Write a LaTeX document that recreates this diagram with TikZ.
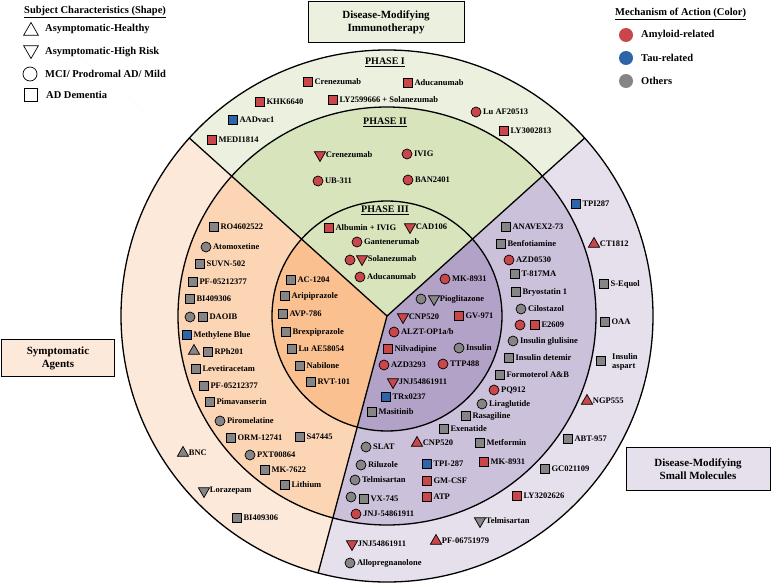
\documentclass[tikz,border=0pt]{standalone}
\usepackage{fontspec}
\setmainfont{Liberation Serif}
\usetikzlibrary{shapes.geometric}
\definecolor{gA}{HTML}{EBF1DE}\definecolor{gB}{HTML}{D7E4BC}\definecolor{gC}{HTML}{D7E4BC}
\definecolor{oA}{HTML}{FDE9D9}\definecolor{oB}{HTML}{FCD5B5}\definecolor{oC}{HTML}{FAC090}
\definecolor{pA}{HTML}{E6E0EC}\definecolor{pB}{HTML}{CCC1DA}\definecolor{pC}{HTML}{B3A2C7}
\definecolor{rd}{HTML}{C9474A}\definecolor{bl}{HTML}{2E64A8}\definecolor{gy}{HTML}{858585}
\newcommand\mk[4]{\node[#3,fill=#4] (#1) at (#2) {};}
\newcommand\tx[2]{\node[lbl] (#1t) at ([xshift=1.5pt]#1.east) {#2};}
\newcommand\itm[5]{\mk{#1}{#2}{#3}{#4}\tx{#1}{#5}}
\begin{document}
\begin{tikzpicture}[x=1pt,y=-1pt,
 sq/.style={draw=black,line width=0.7pt,rectangle,minimum size=9pt,inner sep=0},
 ci/.style={draw=black,line width=0.7pt,circle,minimum size=10pt,inner sep=0},
 tu/.style={draw=black,line width=0.7pt,regular polygon,regular polygon sides=3,minimum size=13pt,inner sep=0},
 td/.style={tu,shape border rotate=180},
 lbl/.style={anchor=west,inner sep=0,font=\bfseries\fontsize{8.5}{9}\selectfont},
 leg/.style={anchor=west,inner sep=0,font=\bfseries\fontsize{10.5}{12}\selectfont},
 box/.style={draw=black,line width=0.8pt,align=center,font=\bfseries\fontsize{11}{13}\selectfont},
 ph/.style={font=\bfseries\fontsize{10}{12}\selectfont,inner sep=1pt},
 bd/.style={line width=1.3pt}]
\useasboundingbox (0,0) rectangle (771,583);
\coordinate (c) at (387,316);
% rings
\fill[gA] (c) -- (-138:266) ++(0,0) arc[start angle=-138,end angle=-42,radius=266] -- cycle;
\fill[gA] (c) -- ++(-138:266) arc[start angle=-138,end angle=-42,radius=266] -- cycle;
\fill[oA] (c) -- ++(105:266) arc[start angle=105,end angle=222,radius=266] -- cycle;
\fill[pA] (c) -- ++(-42:266) arc[start angle=-42,end angle=105,radius=266] -- cycle;
\fill[gB] (c) -- ++(-138:209) arc[start angle=-138,end angle=-42,radius=209] -- cycle;
\fill[oB] (c) -- ++(105:209) arc[start angle=105,end angle=222,radius=209] -- cycle;
\fill[pB] (c) -- ++(-42:209) arc[start angle=-42,end angle=105,radius=209] -- cycle;
\fill[gC] (c) -- ++(-138:115) arc[start angle=-138,end angle=-42,radius=115] -- cycle;
\fill[oC] (c) -- ++(105:115) arc[start angle=105,end angle=222,radius=115] -- cycle;
\fill[pC] (c) -- ++(-42:115) arc[start angle=-42,end angle=105,radius=115] -- cycle;
\draw[bd] (c) circle[radius=266] (c) circle[radius=209] (c) circle[radius=115];
\draw[bd] (c) -- ++(-138:266) (c) -- ++(-42:266) (c) -- ++(105:266);
% boxes
\node[box,fill=gA,minimum width=156pt,minimum height=41pt] (b1) at (386,22) {Disease-Modifying\\Immunotherapy};
\node[box,fill=oA,minimum width=113pt,minimum height=37pt] (b2) at (58,358) {Symptomatic\\Agents};
\node[box,fill=pA,minimum width=144pt,minimum height=43pt] (b3) at (698,469) {Disease-Modifying\\Small Molecules};
% legends
\node[leg] (lh) at (24,12) {\underline{Subject Characteristics (Shape)}};
\node[tu,fill=none,minimum size=17pt] (l1) at (31,31) {}; \node[leg] (l1t) at (45,29) {Asymptomatic-Healthy};
\node[td,fill=none,minimum size=17pt] (l2) at (31,50) {}; \node[leg] (l2t) at (45,52) {Asymptomatic-High Risk};
\node[ci,fill=none,minimum size=14pt] (l3) at (30,74) {}; \node[leg] (l3t) at (45,74) {MCI/ Prodromal AD/ Mild};
\node[sq,fill=none,minimum size=13pt] (l4) at (31,95) {}; \node[leg] (l4t) at (46,95) {AD Dementia};
\node[leg] (rh) at (615,14) {\underline{Mechanism of Action (Color)}};
\node[ci,draw=none,fill=rd,minimum size=14pt] (r1) at (626,35) {}; \node[leg] (r1t) at (641,35) {Amyloid-related};
\node[ci,draw=none,fill=bl,minimum size=14pt] (r2) at (626,58) {}; \node[leg] (r2t) at (641,58) {Tau-related};
\node[ci,draw=none,fill=gy,minimum size=14pt] (r3) at (626,81) {}; \node[leg] (r3t) at (641,81) {Others};
% phases
\node[ph] (p1) at (385,62) {\underline{PHASE I}};
\node[ph] (p2) at (385,122) {\underline{PHASE II}};
\node[ph] (p3) at (385,210) {\underline{PHASE III}};
% phase I
\itm{a1}{308,82}{sq}{rd}{Crenezumab}
\itm{a2}{408,83}{sq}{rd}{Aducanumab}
\itm{a3}{260,102}{sq}{rd}{KHK6640}
\itm{a4}{333,100}{sq}{rd}{LY2599666 + Solanezumab}
\itm{a5}{476,112}{ci}{rd}{Lu AF20513}
\itm{a6}{233,120}{sq}{bl}{AADvac1}
\itm{a7}{504,131}{sq}{rd}{LY3002813}
\itm{a8}{212,140}{sq}{rd}{MEDI1814}
% phase II
\itm{b1m}{320,155}{td}{rd}{Crenezumab}
\itm{b2m}{407,154}{ci}{rd}{IVIG}
\itm{b3m}{318,181}{ci}{rd}{UB-311}
\itm{b4m}{408,180}{ci}{rd}{BAN2401}
% phase III
\itm{c1}{329,228}{sq}{rd}{Albumin + IVIG}
\itm{c2}{410,227}{td}{rd}{CAD106}
\itm{c3}{357,242}{ci}{rd}{Gantenerumab}
\mk{c4a}{350,260}{ci}{rd}\itm{c4}{362,259}{td}{rd}{Solanezumab}
\itm{c5}{360,277}{ci}{rd}{Aducanumab}
% orange inner
\itm{d1}{291,280}{sq}{gy}{AC-1204}
\itm{d2}{285,296}{sq}{gy}{Aripiprazole}
\itm{d3}{283,314}{sq}{gy}{AVP-786}
\itm{d4}{286,332}{sq}{gy}{Brexpiprazole}
\itm{d5}{292,349}{sq}{gy}{Lu AE58054}
\itm{d6}{300,366}{sq}{gy}{Nabilone}
\itm{d7}{311,382}{sq}{gy}{RVT-101}
% orange middle
\itm{e1}{214,227}{sq}{gy}{RO4602522}
\itm{e2}{206,247}{ci}{gy}{Atomoxetine}
\itm{e3}{200,264}{sq}{gy}{SUVN-502}
\itm{e4}{193,282}{sq}{gy}{PF-05212377}
\itm{e5}{190,299}{sq}{gy}{BI409306}
\mk{e6a}{190,317}{ci}{gy}\itm{e6}{203,317}{sq}{gy}{DAOIB}
\itm{e7}{187,335}{sq}{bl}{Methylene Blue}
\mk{e8a}{194,351}{tu}{gy}\itm{e8}{208,352}{sq}{gy}{RPh201}
\itm{e9}{196,369}{sq}{gy}{Levetiracetam}
\itm{e10}{204,386}{sq}{gy}{PF-05212377}
\itm{e11}{210,402}{sq}{gy}{Pimavanserin}
\itm{e12}{220,421}{ci}{gy}{Piromelatine}
\itm{e13}{231,438}{sq}{gy}{ORM-12741}
\itm{e14}{300,437}{sq}{gy}{S47445}
\itm{e15}{250,455}{ci}{gy}{PXT00864}
\itm{e16}{265,470}{sq}{gy}{MK-7622}
\itm{e17}{285,485}{sq}{gy}{Lithium}
% orange outer
\itm{f1}{183,453}{tu}{gy}{BNC}
\itm{f2}{204,491}{td}{gy}{Lorazepam}
\itm{f3}{237,518}{sq}{gy}{BI409306}
% purple inner
\itm{g1}{445,279}{ci}{rd}{MK-8931}
\mk{g2a}{421,299}{ci}{gy}\itm{g2}{434,299}{td}{gy}{Pioglitazone}
\itm{g3}{403,317}{td}{rd}{CNP520}
\itm{g4}{459,316}{sq}{rd}{GV-971}
\itm{g5}{394,332}{ci}{rd}{ALZT-OP1a/b}
\itm{g6}{388,349}{sq}{rd}{Nilvadipine}
\itm{g7}{459,348}{ci}{gy}{Insulin}
\itm{g8}{384,365}{ci}{rd}{AZD3293}
\itm{g9}{443,364}{ci}{rd}{TTP488}
\itm{g10}{393,382}{td}{rd}{JNJ54861911}
\itm{g11}{386,397}{sq}{bl}{TRx0237}
\itm{g12}{372,412}{sq}{gy}{Masitinib}
% purple middle
\itm{h1}{506,227}{sq}{gy}{ANAVEX2-73}
\itm{h2}{501,244}{sq}{gy}{Benfotiamine}
\itm{h3}{509,260}{ci}{rd}{AZD0530}
\itm{h4}{515,274}{sq}{gy}{T-817MA}
\itm{h5}{516,292}{sq}{gy}{Bryostatin 1}
\itm{h6}{521,309}{ci}{gy}{Cilostazol}
\mk{h7a}{520,325}{ci}{rd}\itm{h7}{535,325}{sq}{rd}{E2609}
\itm{h8}{513,341}{ci}{gy}{Insulin glulisine}
\itm{h9}{509,358}{sq}{gy}{Insulin detemir}
\itm{h10}{500,375}{sq}{gy}{Formoterol A\&B}
\itm{h11}{494,390}{ci}{rd}{PQ912}
\itm{h12}{482,404}{ci}{gy}{Liraglutide}
\itm{h13}{466,416}{sq}{gy}{Rasagiline}
\itm{h14}{444,429}{sq}{gy}{Exenatide}
\itm{h15}{417,443}{tu}{rd}{CNP520}
\itm{h16}{480,443}{sq}{gy}{Metformin}
\itm{h17}{366,447}{ci}{gy}{SLAT}
\itm{h18}{361,465}{ci}{gy}{Riluzole}
\itm{h19}{427,464}{sq}{bl}{TPI-287}
\itm{h20}{484,462}{sq}{rd}{MK-8931}
\itm{h21}{355,480}{ci}{gy}{Telmisartan}
\itm{h22}{427,481}{sq}{rd}{GM-CSF}
\mk{h23a}{351,497}{ci}{gy}\itm{h23}{364,499}{sq}{gy}{VX-745}
\itm{h24}{427,497}{sq}{rd}{ATP}
\itm{h25}{356,514}{ci}{rd}{JNJ-54861911}
% purple outer
\itm{k1}{576,204}{sq}{bl}{TPI287}
\itm{k2}{594,244}{tu}{rd}{CT1812}
\itm{k3}{604,284}{sq}{gy}{S-Equol}
\itm{k4}{605,322}{sq}{gy}{OAA}
\mk{k5}{601,361}{sq}{gy}\node[lbl,align=left] (k5t) at (612,362) {Insulin\\aspart};
\itm{k6}{587,401}{tu}{rd}{NGP555}
\itm{k7}{568,439}{sq}{gy}{ABT-957}
\itm{k8}{545,469}{sq}{gy}{GC021109}
\itm{k9}{517,496}{sq}{rd}{LY3202626}
\itm{k10}{480,521}{td}{gy}{Telmisartan}
\itm{k11}{352,544}{td}{rd}{JNJ54861911}
\itm{k12}{436,541}{tu}{rd}{PF-06751979}
\itm{k13}{350,563}{ci}{gy}{Allopregnanolone}
\end{tikzpicture}
\end{document}
